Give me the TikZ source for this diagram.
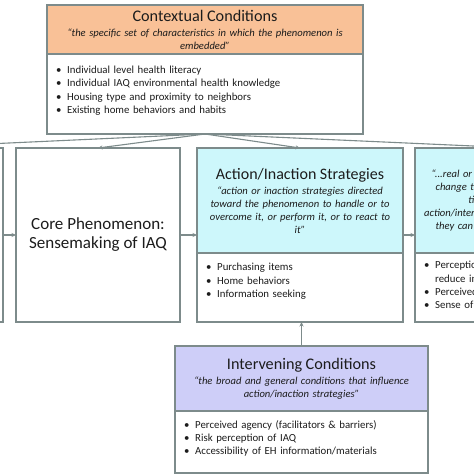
\documentclass[tikz,border=0pt]{standalone}
\usepackage{fontspec}
\setmainfont{Carlito}
\usetikzlibrary{arrows.meta,positioning}
\definecolor{Frame}{HTML}{7D8B8B}
\definecolor{Peach}{HTML}{F9C197}
\definecolor{Ice}{HTML}{CDF7FB}
\definecolor{Lilac}{HTML}{CECEF8}
\definecolor{Ink}{HTML}{1C1C1C}
\newcommand{\bul}[1]{\makebox[12pt][l]{\hspace{1pt}\textbullet}#1}
\newcommand{\cont}[1]{\makebox[12pt]{}#1}

\begin{document}
\begin{tikzpicture}[x=1pt,y=-1pt,
  head/.style={draw=Frame,line width=1.2pt,outer sep=0pt,inner sep=0pt,align=center,text=Ink,
    font=\fontsize{10.6}{13}\selectfont\itshape},
  body/.style={draw=Frame,line width=1.2pt,outer sep=0pt,inner sep=0pt,fill=white},
  items/.style={align=left,inner sep=0pt,text width=235pt,text=Ink,font=\fontsize{10.8}{13.3}\selectfont},
  link/.style={draw=Frame,line width=1.1pt,-{Stealth[length=4.5pt,width=4pt]}}]
  \clip (0,0) rectangle (474,474);
  \fill[white] (0,0) rectangle (474,474);

  % contextual conditions
  \node[head,fill=Peach,minimum width=316pt,minimum height=49pt,text width=305pt] (ctxhead) at (205,29.5)
    {{\fontsize{16.2}{18}\selectfont\upshape Contextual Conditions}\\[2pt]
     “the specific set of characteristics in which the phenomenon is\\ embedded”};
  \node[body,minimum width=316pt,minimum height=80pt,below=0pt of ctxhead] (ctxbody) {};
  \node[items,below right=12pt and 8pt of ctxbody.north west,anchor=north west] (ctxlist)
    {\bul{Individual level health literacy}\\
     \bul{Individual IAQ environmental health knowledge}\\
     \bul{Housing type and proximity to neighbors}\\
     \bul{Existing home behaviors and habits}};

  % middle row
  \node[body,minimum width=206pt,minimum height=174pt] (leftbox) at (-100,235) {};
  \node[body,minimum width=164pt,minimum height=174pt,align=center,text=Ink,
    font=\fontsize{17}{19}\selectfont] (core) at (98,235)
    {Core Phenomenon:\\ Sensemaking of IAQ};

  \node[head,fill=Ice,minimum width=206pt,minimum height=105pt,text width=196pt] (acthead) at (300,200.5)
    {{\fontsize{16}{18}\selectfont\upshape Action/Inaction Strategies}\\[2pt]
     “action or inaction strategies directed\\
     toward the phenomenon to handle or to\\
     overcome it, or perform it, or to react to\\ it”};
  \node[body,minimum width=206pt,minimum height=69pt,below=0pt of acthead] (actbody) {};
  \node[items,below right=10pt and 8pt of actbody.north west,anchor=north west] (actlist)
    {\bul{Purchasing items}\\
     \bul{Home behaviors}\\
     \bul{Information seeking}};

  \node[head,fill=Ice,minimum width=206pt,minimum height=105pt,text width=204pt] (conhead) at (518,200.5)
    {“...real or imagined outcomes that may\\
     change the situation over a period of\\
     time as a result of the\\
     action/interaction strategies taken, or how\\
     they can be understood or predicted”};
  \node[body,minimum width=206pt,minimum height=69pt,below=0pt of conhead] (conbody) {};
  \node[items,below right=8pt and 8pt of conbody.north west,anchor=north west] (conlist)
    {\bul{Perception of ability to}\\
     \cont{reduce indoor pollutants}\\
     \bul{Perceived self-efficacy}\\
     \bul{Sense of control}};

  % intervening conditions
  \node[head,fill=Lilac,minimum width=253pt,minimum height=65pt,text width=245pt] (inthead) at (301.5,378.5)
    {{\fontsize{16.2}{18}\selectfont\upshape Intervening Conditions}\\[2pt]
     “the broad and general conditions that influence\\
     action/inaction strategies”};
  \node[body,minimum width=253pt,minimum height=62pt,below=0pt of inthead] (intbody) {};
  \node[items,below right=9pt and 8pt of intbody.north west,anchor=north west] (intlist)
    {\bul{Perceived agency (facilitators \& barriers)}\\
     \bul{Risk perception of IAQ}\\
     \bul{Accessibility of EH information/materials}};

  % connectors
  \coordinate (fan) at (ctxbody.south);
  \draw[link] (fan) -- (leftbox.north);
  \draw[link] (fan) -- (core.north);
  \draw[link] (fan) -- (acthead.north);
  \draw[link] (fan) -- (conhead.north);
  \draw[link] (leftbox.east) -- (core.west);
  \draw[link] (core.east) -- (core.east -| acthead.west);
  \draw[link] (core.east -| acthead.east) -- (core.east -| conhead.west);
  \draw[link] (inthead.north) -- (inthead.north |- actbody.south);
\end{tikzpicture}
\end{document}
